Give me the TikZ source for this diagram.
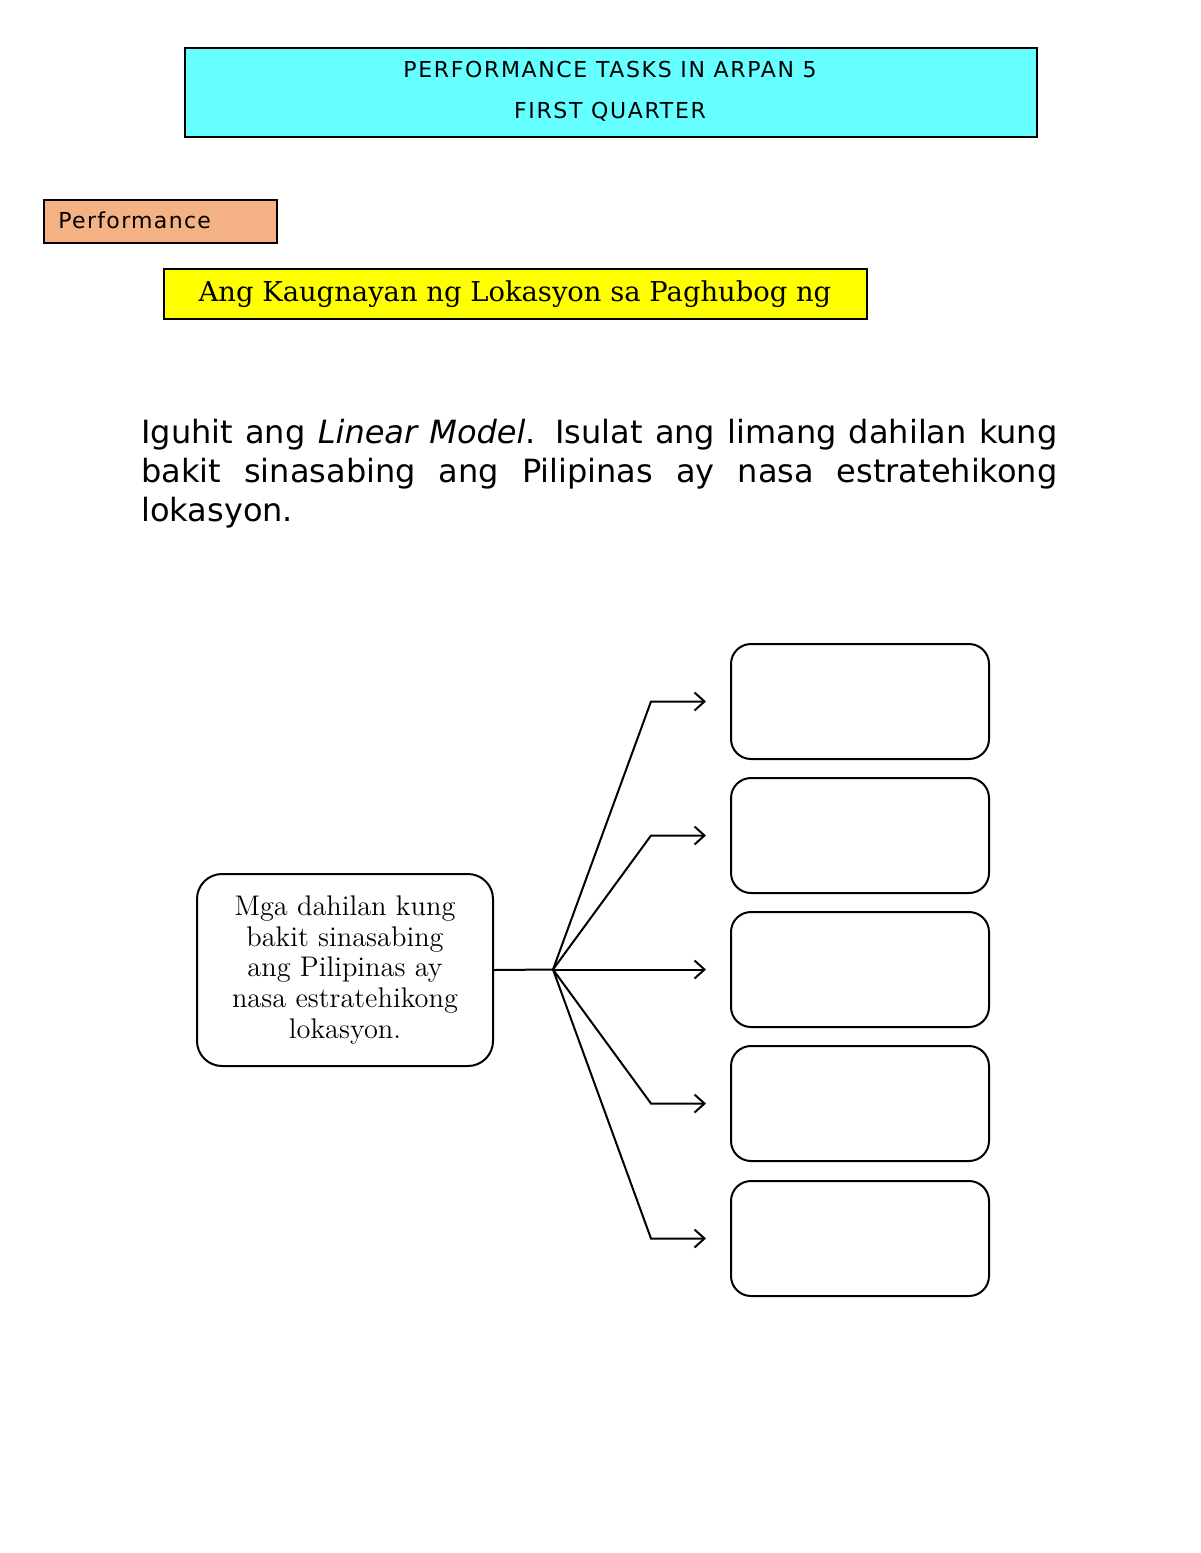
\documentclass[tikz,border=0pt]{standalone}
\usepackage{fontspec}
\setsansfont{DejaVu Sans}
\newfontfamily\dvserif{DejaVu Serif}
\newfontfamily\dvspaced[LetterSpace=6]{DejaVu Sans}
\newfontfamily\dvwide[LetterSpace=7.5]{DejaVu Sans}
\usetikzlibrary{arrows.meta}

\definecolor{headcyan}{RGB}{102,255,255}
\definecolor{tagorange}{RGB}{244,177,131}
\definecolor{titleyellow}{RGB}{255,255,0}

\tikzset{
  answerbox/.style={draw, line width=1pt, rounded corners=10pt, minimum width=129pt, minimum height=57.5pt, inner sep=0pt},
  branch/.style={line width=1pt, -{Straight Barb[length=5pt,width=9pt]}, shorten >=12pt},
}

\begin{document}
\begin{tikzpicture}[x=0.5pt,y=0.5pt,yscale=-1,xscale=1]
\useasboundingbox (0,0) rectangle (1200,1553);

%Shape: Rectangle [header]
\node (header) [draw, line width=0.8pt, fill=headcyan, minimum width=426pt, minimum height=44.5pt, inner sep=0pt] at (611,92.5) {};
% Text Node
\node (headone) [font=\dvwide\fontsize{11}{13}\selectfont, inner sep=0pt] at (610,69) {PERFORMANCE TASKS IN ARPAN 5};
% Text Node
\node (headtwo) [font=\dvwide\fontsize{11}{13}\selectfont, inner sep=0pt] at (610,111.5) {FIRST QUARTER};

%Shape: Rectangle [tag]
\node (tag) [draw, line width=0.8pt, fill=tagorange, minimum width=116.5pt, minimum height=21.5pt, inner sep=0pt] at (160.5,221.5) {};
% Text Node
\node (tagtext) [anchor=west, font=\dvspaced\fontsize{11}{13}\selectfont, inner sep=0pt] at (58,220) {Performance};

%Shape: Rectangle [title]
\node (title) [draw, line width=0.8pt, fill=titleyellow, minimum width=351.5pt, minimum height=25pt, inner sep=0pt] at (515.5,294) {};
% Text Node
\node (titletext) [font=\dvserif\fontsize{13.7}{16}\selectfont, inner sep=0pt] at (515,294) {Ang Kaugnayan ng Lokasyon sa Paghubog ng};

% Text Node
\node (task) [anchor=north west, text width=458pt, align=justify, inner sep=0pt, font=\sffamily\fontsize{16}{19.5}\selectfont] at (141,419) {Iguhit ang \textit{Linear Model}. Isulat ang limang dahilan kung\linebreak bakit sinasabing ang Pilipinas ay nasa estratehikong\linebreak lokasyon.};

%Shape: Rounded Rect [center]
\node (reasons) [draw, line width=1pt, rounded corners=12.5pt, minimum width=148pt, minimum height=96pt, align=center, font=\fontsize{14.2}{15.4}\selectfont] at (345,970) {Mga dahilan kung\\bakit sinasabing\\ang Pilipinas ay\\nasa estratehikong\\lokasyon.};

%Shape: Rounded Rect [answers]
\node (ansa) [answerbox] at (860,701.5) {};
\node (ansb) [answerbox] at (860,835.5) {};
\node (ansc) [answerbox] at (860,969.5) {};
\node (ansd) [answerbox] at (860,1103.5) {};
\node (anse) [answerbox] at (860,1238.5) {};

% Hub and elbows
\coordinate (hub) at (553,969.5);
\coordinate (elba) at (651,701.5);
\coordinate (elbb) at (651,835.5);
\coordinate (elbd) at (651,1103.5);
\coordinate (elbe) at (651,1238.5);

%Straight Lines
\draw [line width=1pt] (reasons.east) -- (hub);
\draw [branch] (hub) -- (elba) -- (ansa.west);
\draw [branch] (hub) -- (elbb) -- (ansb.west);
\draw [branch] (hub) -- (ansc.west);
\draw [branch] (hub) -- (elbd) -- (ansd.west);
\draw [branch] (hub) -- (elbe) -- (anse.west);

\end{tikzpicture}
\end{document}
